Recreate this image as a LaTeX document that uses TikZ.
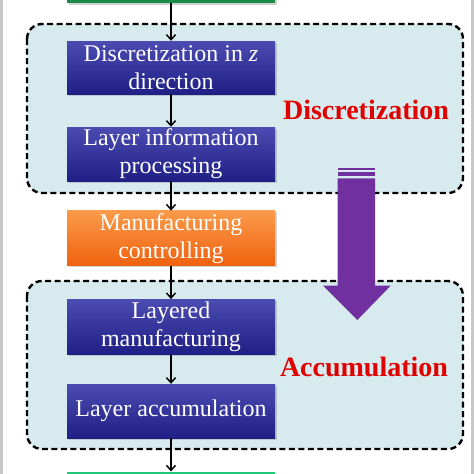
\documentclass[tikz,border=0pt]{standalone}
\usepackage{fontspec}
\setmainfont{Liberation Serif}
\usetikzlibrary{arrows.meta,shadows}
\definecolor{panelfill}{HTML}{D7EBEF}
\definecolor{bluetop}{HTML}{4B4BB2}
\definecolor{bluebot}{HTML}{1F1F86}
\definecolor{orangetop}{HTML}{FA9A4A}
\definecolor{orangebot}{HTML}{F0620F}
\definecolor{greendark}{HTML}{1A8A48}
\definecolor{greenlight}{HTML}{22C878}
\definecolor{purplearrow}{HTML}{7030A0}
\definecolor{labelred}{HTML}{E00000}
\definecolor{edgegrey}{HTML}{C8C8C8}
\tikzset{
  stepbox/.style={draw=none, minimum width=208pt, minimum height=54pt, inner sep=0pt,
    align=center, text=white, font=\fontsize{24}{28}\selectfont,
    drop shadow={shadow xshift=1.5pt, shadow yshift=-1.5pt, opacity=0.35}},
  bluebox/.style={stepbox, top color=bluetop, bottom color=bluebot},
  orangebox/.style={stepbox, top color=orangetop, bottom color=orangebot},
  panel/.style={draw=black, fill=panelfill, line width=2.4pt, rounded corners=15pt,
    dash pattern=on 6pt off 3.5pt},
  flow/.style={-{Straight Barb[length=5pt,width=9pt,line width=1.5pt]}, line width=1.6pt, black},
  phaselabel/.style={text=labelred, font=\fontsize{28}{32}\bfseries\selectfont}
}
\begin{document}
\begin{tikzpicture}[x=1pt,y=-1pt]
\useasboundingbox (0,0) rectangle (474,474);
\fill[white] (0,0) rectangle (474,474);
\fill[edgegrey] (0,0) rectangle (2.5,474);
\fill[edgegrey] (471,0) rectangle (474,474);
% panels
\draw[panel] (27,24) rectangle (463,193);
\draw[panel] (27,281) rectangle (463,449);
% boxes
\node[stepbox, fill=greendark, minimum height=54pt] (start) at (171,-24) {};
\node[bluebox, minimum height=53pt] (dz) at (171,67.5) {Discretization in \textit{z}\\direction};
\node[bluebox] (lip) at (171,154) {Layer information\\processing};
\node[orangebox, minimum height=55pt] (mc) at (171,238.3) {Manufacturing\\controlling};
\node[bluebox, minimum height=55pt] (lm) at (171,326.8) {Layered\\manufacturing};
\node[bluebox] (la) at (171,411) {Layer accumulation};
\node[stepbox, fill=greenlight] (finish) at (171,498.7) {};
% connectors
\draw[flow] (start.south) -- (dz.north);
\draw[flow] (dz.south) -- (lip.north);
\draw[flow] (lip.south) -- (mc.north);
\draw[flow] (mc.south) -- (lm.north);
\draw[flow] (lm.south) -- (la.north);
\draw[flow] (la.south) -- (finish.north);
% labels
\node[phaselabel] (ldisc) at (366,110) {Discretization};
\node[phaselabel] (lacc) at (364,367) {Accumulation};
% purple arrow
\fill[purplearrow] (337.7,168.3) rectangle (375,170);
\fill[purplearrow] (337.7,172.3) rectangle (375,175.7);
\fill[purplearrow] (337.7,178.3) -- (375,178.3) -- (375,285.7) -- (390.7,285.7)
  -- (357.3,320) -- (323,285.7) -- (337.7,285.7) -- cycle;
\end{tikzpicture}
\end{document}
